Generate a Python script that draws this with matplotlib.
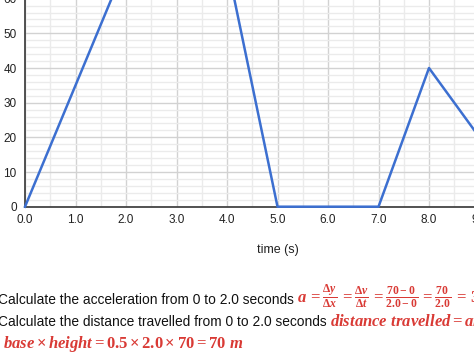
import numpy as np
import matplotlib
matplotlib.use("Agg")
import matplotlib.pyplot as plt
from matplotlib.ticker import MultipleLocator

# Data
time = [0.0, 2.0, 4.0, 5.0, 7.0, 8.0, 9.0]
velocity = [0, 70, 70, 0, 0, 40, 20]

xLabel = "time (s)"
line1Black = "Calculate the acceleration from 0 to 2.0 seconds "
line1Red = (r"$a\,=\frac{\Delta y}{\Delta x}\,=\frac{\Delta v}{\Delta t}"
            r"\,=\frac{70-0}{2.0-0}\,=\frac{70}{2.0}\,=\,35\ m/s^2$")
line2Black = "Calculate the distance travelled from 0 to 2.0 seconds "
line2Red = r"$distance\ travelled=area=0.5\times$"
line3Red = r"$base\times height=0.5\times 2.0\times 70=70\ m$"

plt.rcParams["font.family"] = ["Liberation Sans", "DejaVu Sans"]
plt.rcParams["mathtext.fontset"] = "custom"
plt.rcParams["mathtext.rm"] = "Liberation Serif:bold"
plt.rcParams["mathtext.it"] = "Liberation Serif:italic:bold"
plt.rcParams["mathtext.bf"] = "Liberation Serif:bold"

W, H = 474, 355
fig = plt.figure(figsize=(W / 100, H / 100), dpi=100)
fig.patch.set_facecolor("white")

# Axes in pixel units; axes extend beyond the figure (the image is a crop)
pxX, pxY = 50.5, 3.467
x0, y0 = 25, H - 206.7
ax = fig.add_axes([x0 / W, y0 / H, 10 * pxX / W, 80 * pxY / H])
ax.set_xlim(0, 10)
ax.set_ylim(0, 80)

ax.plot(time, velocity, color="#3c6fd0", lw=1.8, zorder=3, clip_on=False)

# Grid
ax.xaxis.set_major_locator(MultipleLocator(1.0))
ax.xaxis.set_minor_locator(MultipleLocator(0.5))
ax.yaxis.set_major_locator(MultipleLocator(10))
ax.yaxis.set_minor_locator(MultipleLocator(2))
ax.grid(which="major", color="#d2d2d2", lw=1.0)
ax.grid(which="minor", color="#ebebeb", lw=1.0)
ax.set_axisbelow(True)

ax.xaxis.set_major_formatter(plt.FuncFormatter(lambda v, p: "{:.1f}".format(v)))
ax.yaxis.set_major_formatter(plt.FuncFormatter(lambda v, p: "{:.0f}".format(v)))
ax.tick_params(which="both", length=0, labelsize=8.5, colors="#222222")
ax.tick_params(axis="x", pad=5)
ax.tick_params(axis="y", pad=6)

for side in ["top", "right"]:
    ax.spines[side].set_visible(False)
for side in ["left", "bottom"]:
    ax.spines[side].set_color("#444444")
    ax.spines[side].set_linewidth(1.3)

# Texts below the chart (pixel coordinates from top)
def figText(x, yTop, s, **kwargs):
    return fig.text(x / W, 1 - yTop / H, s, va="baseline", **kwargs)

red = "#d93a35"
redSize = 12
blackSize = 9.9
fig.text(278 / W, 1 - 250 / H, xLabel, ha="center", va="center",
         fontsize=9, color="#222222")

renderer = fig.canvas.get_renderer()

t1 = figText(-2, 304, line1Black, fontsize=blackSize, color="#111111")
xEnd = t1.get_window_extent(renderer).x1
fig.text((xEnd - 1) / W, 1 - 304 / H, line1Red, va="baseline",
         fontsize=redSize, color=red)

t2 = figText(-2, 326, line2Black, fontsize=blackSize, color="#111111")
xEnd = t2.get_window_extent(renderer).x1
fig.text(xEnd / W, 1 - 326 / H, line2Red, va="baseline",
         fontsize=redSize, color=red)

figText(3, 348, line3Red, fontsize=redSize, color=red)

fig.savefig("out.png", dpi=100)
